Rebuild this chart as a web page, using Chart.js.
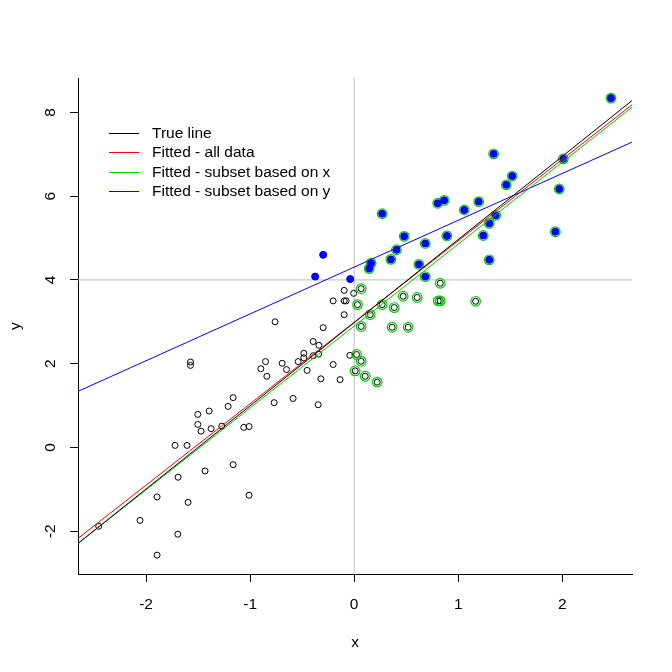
<!DOCTYPE html>
<html lang="en">
<head>
<meta charset="UTF-8">
<title>Fitted lines on subsets</title>
<script src="https://cdn.jsdelivr.net/npm/chart.js"></script>
<style>
  body { margin: 0; background: #fff; }
</style>
</head>
<body>
<canvas id="myChart" width="672" height="672"></canvas>
<script>
// all points (x, y)
const xs = [
  -2.455, -2.058, -1.894, -1.894, -1.721, -1.695, -1.692, -1.606, -1.596, -1.573,
  -1.573, -1.503, -1.503, -1.471, -1.433, -1.394, -1.375, -1.272, -1.211, -1.163,
  -1.163, -1.061, -1.010, -1.010, -0.897, -0.852, -0.839, -0.769, -0.760, -0.692,
  -0.650, -0.587, -0.538, -0.484, -0.484, -0.452, -0.394, -0.394, -0.375, -0.346,
  -0.342, -0.339, -0.320, -0.298, -0.298, -0.202, -0.202, -0.135, -0.096, -0.096,
  -0.077, -0.096, -0.041, -0.038, -0.005,
  0.010, 0.023, 0.032, 0.067, 0.067, 0.067, 0.106, 0.144, 0.154, 0.163,
  0.221, 0.269, 0.269, 0.353, 0.365, 0.385, 0.407, 0.471, 0.481, 0.519,
  0.606, 0.622, 0.683, 0.683, 0.802, 0.808, 0.827, 0.827, 0.865, 0.891,
  1.058, 1.167, 1.197, 1.240, 1.298, 1.298, 1.340, 1.360, 1.462, 1.519,
  1.933, 1.971, 2.010, 2.468
];
const ys = [
  -1.88, -1.74, -1.18, -2.57, 0.05, -2.07, -0.71, 0.05, -1.31, 2.04,
  1.96, 0.79, 0.55, 0.39, -0.56, 0.87, 0.45, 0.51, 0.98, 1.19,
  -0.41, 0.48, 0.50, -1.14, 1.88, 2.05, 1.70, 1.07, 3.00, 2.01,
  1.86, 1.17, 2.05, 2.25, 2.14, 1.84, 2.53, 2.19, 4.08, 1.02,
  2.23, 2.44, 1.64, 2.86, 4.60, 3.50, 1.98, 1.62, 3.75, 3.50,
  3.50, 3.17, 2.20, 4.02, 3.68,
  1.83, 2.22, 3.41, 3.79, 2.89, 2.06, 1.70, 4.27, 3.17, 4.40,
  1.56, 5.58, 3.41, 4.49, 2.87, 3.34, 4.72, 3.61, 5.04, 2.87,
  3.58, 4.37, 4.87, 4.08, 5.83, 3.50, 3.50, 3.92, 5.90, 5.05,
  5.67, 3.49, 5.87, 5.06, 5.35, 4.48, 7.01, 5.54, 6.27, 6.48,
  5.15, 6.17, 6.89, 8.34
];

const xTicks = [-2, -1, 0, 1, 2];
const yTicks = [-2, 0, 2, 4, 6, 8];
const xRange = [-2.654, 2.67];
const yRange = [-3.02, 8.82];

// subset cut-offs (also the grey reference lines)
const xCut = 0;
const yCut = 4;

// straight lines: y at the left and right edge of the plot
const lineNames = ['True line', 'Fitted - all data', 'Fitted - subset based on x', 'Fitted - subset based on y'];
const lineColors = ['#000000', '#ff0000', '#00cd00', '#0000ff'];
const lineLeftY = [-2.29, -2.17, -2.29, 1.34];
const lineRightY = [8.28, 8.18, 8.12, 7.29];

const FONT = '"Liberation Sans", Arial, sans-serif';
const FSIZE = 15.5;
Chart.defaults.font.family = FONT;
Chart.defaults.color = '#000';

const allPts = xs.map((x, i) => ({ x: x, y: ys[i] }));
const xSubset = allPts.filter(p => p.x > xCut);
const ySubset = allPts.filter(p => p.y > yCut);

const datasets = [];

lineNames.forEach((name, i) => {
  datasets.push({
    label: name,
    data: [{ x: xRange[0], y: lineLeftY[i] }, { x: xRange[1], y: lineRightY[i] }],
    showLine: true,
    borderColor: lineColors[i],
    borderWidth: 1,
    pointRadius: 0,
    order: 0
  });
});

datasets.push({
  label: 'y subset',
  data: ySubset,
  pointRadius: 3.5,
  backgroundColor: '#0000ff',
  borderColor: '#0000ff',
  borderWidth: 1,
  order: 1
});
datasets.push({
  label: 'x subset',
  data: xSubset,
  pointRadius: 4.8,
  backgroundColor: 'rgba(0,0,0,0)',
  borderColor: '#00cd00',
  borderWidth: 1.2,
  order: 2
});
datasets.push({
  label: 'all',
  data: allPts,
  pointRadius: 3,
  backgroundColor: 'rgba(0,0,0,0)',
  borderColor: '#000000',
  borderWidth: 1,
  order: 3
});
datasets.push({
  label: 'h',
  data: [{ x: xRange[0], y: yCut }, { x: xRange[1], y: yCut }],
  showLine: true, borderColor: '#bebebe', borderWidth: 1, pointRadius: 0, order: 4
});
datasets.push({
  label: 'v',
  data: [{ x: xCut, y: yRange[0] }, { x: xCut, y: yRange[1] }],
  showLine: true, borderColor: '#bebebe', borderWidth: 1, pointRadius: 0, order: 4
});

// legend in the top left corner, no box
const legendPlugin = {
  id: 'rLegend',
  afterDraw(chart) {
    const c = chart.ctx;
    c.save();
    c.font = FSIZE + 'px ' + FONT;
    c.textBaseline = 'middle';
    c.textAlign = 'left';
    lineNames.forEach((name, i) => {
      const y = Math.round(133 + i * 19.3);
      c.strokeStyle = lineColors[i];
      c.lineWidth = 1;
      c.beginPath();
      c.moveTo(109, y + 0.5);
      c.lineTo(139, y + 0.5);
      c.stroke();
      c.fillStyle = '#000';
      c.fillText(name, 152, y + 1);
    });
    c.restore();
  }
};

const ctx = document.getElementById('myChart').getContext('2d');
const myChart = new Chart(ctx, {
  type: 'scatter',
  data: { datasets: datasets },
  plugins: [legendPlugin],
  options: {
    responsive: false,
    animation: false,
    layout: { padding: { left: 0, top: 78, right: 40, bottom: 0 } },
    plugins: {
      legend: { display: false },
      tooltip: { enabled: false }
    },
    scales: {
      x: {
        type: 'linear',
        min: xRange[0],
        max: xRange[1],
        afterFit: s => { s.height = 98; },
        afterBuildTicks: s => { s.ticks = xTicks.map(v => ({ value: v })); },
        grid: { drawOnChartArea: false, tickLength: 8, color: '#000' },
        border: { color: '#000', width: 1 },
        ticks: { color: '#000', font: { size: FSIZE }, padding: 13, maxRotation: 0, autoSkip: false },
        title: { display: true, text: 'x', color: '#000', font: { size: FSIZE }, padding: { top: 0, bottom: 20 } }
      },
      y: {
        type: 'linear',
        min: yRange[0],
        max: yRange[1],
        afterFit: s => { s.width = 78; },
        afterBuildTicks: s => { s.ticks = yTicks.map(v => ({ value: v })); },
        grid: { drawOnChartArea: false, tickLength: 8, color: '#000' },
        border: { color: '#000', width: 1 },
        ticks: { color: '#000', font: { size: FSIZE }, padding: 12, minRotation: 90, maxRotation: 90, crossAlign: 'center', autoSkip: false },
        title: { display: true, text: 'y', color: '#000', font: { size: FSIZE }, padding: { top: 6, bottom: 0 } }
      }
    }
  }
});
</script>
</body>
</html>
